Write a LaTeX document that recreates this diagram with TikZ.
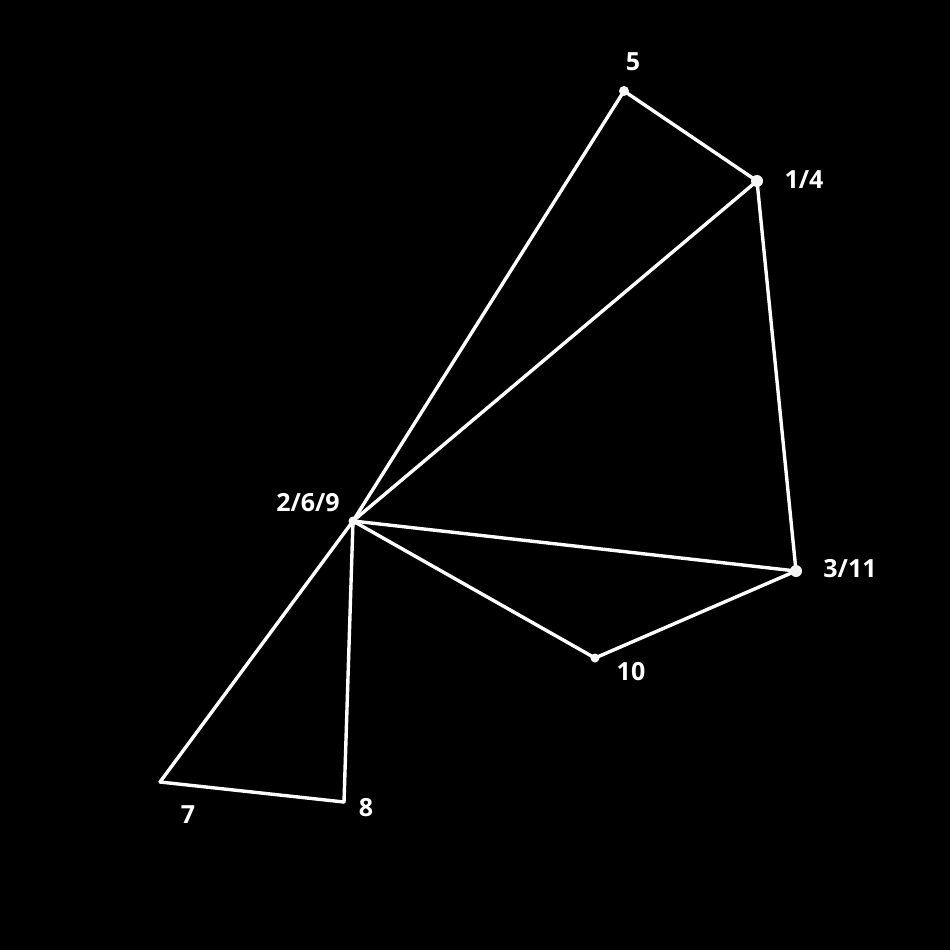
\documentclass[tikz,border=0pt]{standalone}
\usepackage{fontspec}
\setmainfont{Open Sans}
\begin{document}
\begin{tikzpicture}[x=1pt,y=-1pt,
  edge/.style={draw=white,line width=3.4pt,line cap=round,line join=round},
  vtx/.style={circle,fill=white!92!gray,inner sep=0pt,minimum size=9pt},
  lbl/.style={text=white,font=\fontsize{25}{28}\selectfont\bfseries,inner sep=0pt}]
\fill[black] (0,0) rectangle (950,950);
\useasboundingbox (0,0) rectangle (950,950);
\coordinate (v5) at (624,91);
\coordinate (v14) at (757,181);
\coordinate (v269) at (353,521);
\coordinate (v311) at (796,571);
\coordinate (v10) at (595,658);
\coordinate (v7) at (160,782);
\coordinate (v8) at (344,802);
\draw[edge] (v5) -- (v14);
\draw[edge] (v5) -- (v269);
\draw[edge] (v14) -- (v269);
\draw[edge] (v14) -- (v311);
\draw[edge] (v269) -- (v311);
\draw[edge] (v269) -- (v10);
\draw[edge] (v10) -- (v311);
\draw[edge] (v269) -- (v7);
\draw[edge] (v7) -- (v8);
\draw[edge] (v8) -- (v269);
\node[vtx,minimum size=10pt] (n5) at (v5) {};
\node[vtx,minimum size=12pt] (n14) at (v14) {};
\node[vtx,minimum size=9pt] (n269) at (v269) {};
\node[vtx,minimum size=12pt] (n311) at (v311) {};
\node[vtx,minimum size=9pt] (n10) at (v10) {};
\node[lbl] (l5) at (633,62) {5};
\node[lbl] (l14) at (804,180) {1/4};
\node[lbl] (l269) at (308,503) {2/6/9};
\node[lbl] (l311) at (850,569) {3/11};
\node[lbl] (l10) at (631,672) {10};
\node[lbl] (l7) at (188,815) {7};
\node[lbl] (l8) at (366,808) {8};
\end{tikzpicture}
\end{document}
